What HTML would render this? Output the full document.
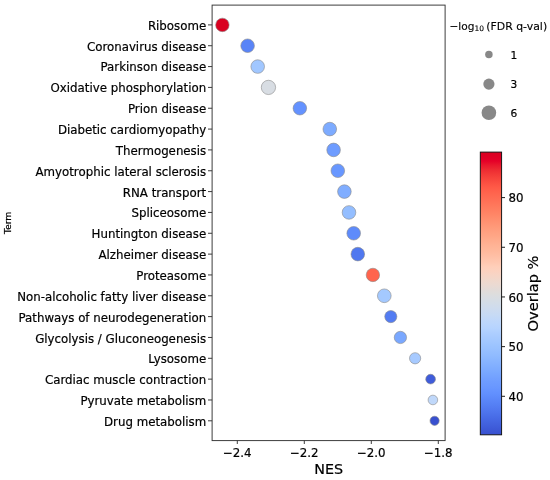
<!DOCTYPE html>
<html><head><meta charset="utf-8"><title>NES dotplot</title>
<style>html,body{margin:0;padding:0;background:#fff;width:550px;height:480px;overflow:hidden}</style>
</head><body>
<svg width="550" height="480" viewBox="0 0 550 480" style="display:block">
<rect x="0" y="0" width="550" height="480" fill="#ffffff"/>
<circle cx="222.40" cy="24.90" r="6.75" fill="#d90020" stroke="#8a8a8a" stroke-width="0.6"/>
<circle cx="247.60" cy="45.73" r="6.80" fill="#5984f7" stroke="#8a8a8a" stroke-width="0.6"/>
<circle cx="257.70" cy="66.57" r="6.80" fill="#a1c7ff" stroke="#8a8a8a" stroke-width="0.6"/>
<circle cx="268.45" cy="87.41" r="7.15" fill="#d8dde3" stroke="#8a8a8a" stroke-width="0.6"/>
<circle cx="299.85" cy="108.24" r="6.75" fill="#6492ff" stroke="#8a8a8a" stroke-width="0.6"/>
<circle cx="329.80" cy="129.08" r="6.80" fill="#7dabff" stroke="#8a8a8a" stroke-width="0.6"/>
<circle cx="333.60" cy="149.92" r="6.80" fill="#6e9cff" stroke="#8a8a8a" stroke-width="0.6"/>
<circle cx="337.80" cy="170.76" r="6.80" fill="#6897ff" stroke="#8a8a8a" stroke-width="0.6"/>
<circle cx="344.40" cy="191.59" r="6.80" fill="#80adff" stroke="#8a8a8a" stroke-width="0.6"/>
<circle cx="349.00" cy="212.43" r="6.80" fill="#94beff" stroke="#8a8a8a" stroke-width="0.6"/>
<circle cx="353.70" cy="233.27" r="6.80" fill="#5e8bfb" stroke="#8a8a8a" stroke-width="0.6"/>
<circle cx="357.80" cy="254.11" r="6.80" fill="#5078ef" stroke="#8a8a8a" stroke-width="0.6"/>
<circle cx="372.90" cy="274.94" r="6.70" fill="#ff644d" stroke="#8a8a8a" stroke-width="0.6"/>
<circle cx="384.30" cy="295.78" r="6.85" fill="#a4c9ff" stroke="#8a8a8a" stroke-width="0.6"/>
<circle cx="390.80" cy="316.62" r="6.05" fill="#537cf2" stroke="#8a8a8a" stroke-width="0.6"/>
<circle cx="400.40" cy="337.46" r="6.15" fill="#7aa8ff" stroke="#8a8a8a" stroke-width="0.6"/>
<circle cx="415.10" cy="358.29" r="5.60" fill="#a7caff" stroke="#8a8a8a" stroke-width="0.6"/>
<circle cx="430.60" cy="379.13" r="4.85" fill="#3f5cda" stroke="#8a8a8a" stroke-width="0.6"/>
<circle cx="432.90" cy="399.97" r="4.80" fill="#c0d8fa" stroke="#8a8a8a" stroke-width="0.6"/>
<circle cx="434.60" cy="420.80" r="4.60" fill="#3850cf" stroke="#8a8a8a" stroke-width="0.6"/>
<rect x="212.1" y="5.1" width="233.00" height="435.50" fill="none" stroke="#333" stroke-width="0.95"/>
<line x1="208.00" y1="24.90" x2="212.1" y2="24.90" stroke="#333" stroke-width="0.95"/>
<text x="206.20" y="29.70" text-anchor="end" font-family="'DejaVu Sans', 'Liberation Sans', sans-serif" font-size="11.8" fill="#000" stroke="#000" stroke-width="0.2">Ribosome</text>
<line x1="208.00" y1="45.73" x2="212.1" y2="45.73" stroke="#333" stroke-width="0.95"/>
<text x="206.20" y="50.55" text-anchor="end" font-family="'DejaVu Sans', 'Liberation Sans', sans-serif" font-size="11.8" fill="#000" stroke="#000" stroke-width="0.2">Coronavirus disease</text>
<line x1="208.00" y1="66.57" x2="212.1" y2="66.57" stroke="#333" stroke-width="0.95"/>
<text x="206.20" y="71.41" text-anchor="end" font-family="'DejaVu Sans', 'Liberation Sans', sans-serif" font-size="11.8" fill="#000" stroke="#000" stroke-width="0.2">Parkinson disease</text>
<line x1="208.00" y1="87.41" x2="212.1" y2="87.41" stroke="#333" stroke-width="0.95"/>
<text x="206.20" y="92.27" text-anchor="end" font-family="'DejaVu Sans', 'Liberation Sans', sans-serif" font-size="11.8" fill="#000" stroke="#000" stroke-width="0.2">Oxidative phosphorylation</text>
<line x1="208.00" y1="108.24" x2="212.1" y2="108.24" stroke="#333" stroke-width="0.95"/>
<text x="206.20" y="113.13" text-anchor="end" font-family="'DejaVu Sans', 'Liberation Sans', sans-serif" font-size="11.8" fill="#000" stroke="#000" stroke-width="0.2">Prion disease</text>
<line x1="208.00" y1="129.08" x2="212.1" y2="129.08" stroke="#333" stroke-width="0.95"/>
<text x="206.20" y="133.99" text-anchor="end" font-family="'DejaVu Sans', 'Liberation Sans', sans-serif" font-size="11.8" fill="#000" stroke="#000" stroke-width="0.2">Diabetic cardiomyopathy</text>
<line x1="208.00" y1="149.92" x2="212.1" y2="149.92" stroke="#333" stroke-width="0.95"/>
<text x="206.20" y="154.85" text-anchor="end" font-family="'DejaVu Sans', 'Liberation Sans', sans-serif" font-size="11.8" fill="#000" stroke="#000" stroke-width="0.2">Thermogenesis</text>
<line x1="208.00" y1="170.76" x2="212.1" y2="170.76" stroke="#333" stroke-width="0.95"/>
<text x="206.20" y="175.70" text-anchor="end" font-family="'DejaVu Sans', 'Liberation Sans', sans-serif" font-size="11.8" fill="#000" stroke="#000" stroke-width="0.2">Amyotrophic lateral sclerosis</text>
<line x1="208.00" y1="191.59" x2="212.1" y2="191.59" stroke="#333" stroke-width="0.95"/>
<text x="206.20" y="196.56" text-anchor="end" font-family="'DejaVu Sans', 'Liberation Sans', sans-serif" font-size="11.8" fill="#000" stroke="#000" stroke-width="0.2">RNA transport</text>
<line x1="208.00" y1="212.43" x2="212.1" y2="212.43" stroke="#333" stroke-width="0.95"/>
<text x="206.20" y="217.42" text-anchor="end" font-family="'DejaVu Sans', 'Liberation Sans', sans-serif" font-size="11.8" fill="#000" stroke="#000" stroke-width="0.2">Spliceosome</text>
<line x1="208.00" y1="233.27" x2="212.1" y2="233.27" stroke="#333" stroke-width="0.95"/>
<text x="206.20" y="238.28" text-anchor="end" font-family="'DejaVu Sans', 'Liberation Sans', sans-serif" font-size="11.8" fill="#000" stroke="#000" stroke-width="0.2">Huntington disease</text>
<line x1="208.00" y1="254.11" x2="212.1" y2="254.11" stroke="#333" stroke-width="0.95"/>
<text x="206.20" y="259.14" text-anchor="end" font-family="'DejaVu Sans', 'Liberation Sans', sans-serif" font-size="11.8" fill="#000" stroke="#000" stroke-width="0.2">Alzheimer disease</text>
<line x1="208.00" y1="274.94" x2="212.1" y2="274.94" stroke="#333" stroke-width="0.95"/>
<text x="206.20" y="280.00" text-anchor="end" font-family="'DejaVu Sans', 'Liberation Sans', sans-serif" font-size="11.8" fill="#000" stroke="#000" stroke-width="0.2">Proteasome</text>
<line x1="208.00" y1="295.78" x2="212.1" y2="295.78" stroke="#333" stroke-width="0.95"/>
<text x="206.20" y="300.85" text-anchor="end" font-family="'DejaVu Sans', 'Liberation Sans', sans-serif" font-size="11.8" fill="#000" stroke="#000" stroke-width="0.2">Non-alcoholic fatty liver disease</text>
<line x1="208.00" y1="316.62" x2="212.1" y2="316.62" stroke="#333" stroke-width="0.95"/>
<text x="206.20" y="321.71" text-anchor="end" font-family="'DejaVu Sans', 'Liberation Sans', sans-serif" font-size="11.8" fill="#000" stroke="#000" stroke-width="0.2">Pathways of neurodegeneration</text>
<line x1="208.00" y1="337.46" x2="212.1" y2="337.46" stroke="#333" stroke-width="0.95"/>
<text x="206.20" y="342.57" text-anchor="end" font-family="'DejaVu Sans', 'Liberation Sans', sans-serif" font-size="11.8" fill="#000" stroke="#000" stroke-width="0.2">Glycolysis / Gluconeogenesis</text>
<line x1="208.00" y1="358.29" x2="212.1" y2="358.29" stroke="#333" stroke-width="0.95"/>
<text x="206.20" y="363.43" text-anchor="end" font-family="'DejaVu Sans', 'Liberation Sans', sans-serif" font-size="11.8" fill="#000" stroke="#000" stroke-width="0.2">Lysosome</text>
<line x1="208.00" y1="379.13" x2="212.1" y2="379.13" stroke="#333" stroke-width="0.95"/>
<text x="206.20" y="384.29" text-anchor="end" font-family="'DejaVu Sans', 'Liberation Sans', sans-serif" font-size="11.8" fill="#000" stroke="#000" stroke-width="0.2">Cardiac muscle contraction</text>
<line x1="208.00" y1="399.97" x2="212.1" y2="399.97" stroke="#333" stroke-width="0.95"/>
<text x="206.20" y="405.15" text-anchor="end" font-family="'DejaVu Sans', 'Liberation Sans', sans-serif" font-size="11.8" fill="#000" stroke="#000" stroke-width="0.2">Pyruvate metabolism</text>
<line x1="208.00" y1="420.80" x2="212.1" y2="420.80" stroke="#333" stroke-width="0.95"/>
<text x="206.20" y="426.00" text-anchor="end" font-family="'DejaVu Sans', 'Liberation Sans', sans-serif" font-size="11.8" fill="#000" stroke="#000" stroke-width="0.2">Drug metabolism</text>
<line x1="237.30" y1="440.6" x2="237.30" y2="444.00" stroke="#333" stroke-width="0.95"/>
<text x="237.30" y="457.20" text-anchor="middle" font-family="'DejaVu Sans', 'Liberation Sans', sans-serif" font-size="11.8" fill="#000" stroke="#000" stroke-width="0.2">−2.4</text>
<line x1="304.30" y1="440.6" x2="304.30" y2="444.00" stroke="#333" stroke-width="0.95"/>
<text x="304.30" y="457.20" text-anchor="middle" font-family="'DejaVu Sans', 'Liberation Sans', sans-serif" font-size="11.8" fill="#000" stroke="#000" stroke-width="0.2">−2.2</text>
<line x1="371.30" y1="440.6" x2="371.30" y2="444.00" stroke="#333" stroke-width="0.95"/>
<text x="371.30" y="457.20" text-anchor="middle" font-family="'DejaVu Sans', 'Liberation Sans', sans-serif" font-size="11.8" fill="#000" stroke="#000" stroke-width="0.2">−2.0</text>
<line x1="438.30" y1="440.6" x2="438.30" y2="444.00" stroke="#333" stroke-width="0.95"/>
<text x="438.30" y="457.20" text-anchor="middle" font-family="'DejaVu Sans', 'Liberation Sans', sans-serif" font-size="11.8" fill="#000" stroke="#000" stroke-width="0.2">−1.8</text>
<text x="328.60" y="474.2" text-anchor="middle" font-family="'DejaVu Sans', 'Liberation Sans', sans-serif" font-size="14.3" fill="#000" stroke="#000" stroke-width="0.2">NES</text>
<text transform="translate(11.25,222.85) rotate(-90)" text-anchor="middle" font-family="'DejaVu Sans', 'Liberation Sans', sans-serif" font-size="9.3" fill="#000" stroke="#000" stroke-width="0.2">Term</text>
<text x="449.4" y="29.8" font-family="'DejaVu Sans', 'Liberation Sans', sans-serif" font-size="10.6" fill="#000" stroke="#000" stroke-width="0.12">−log<tspan font-size="7.5" dy="1.6">10</tspan><tspan dy="-1.6" dx="2.3" font-size="10.9">(FDR q-val)</tspan></text>
<circle cx="488.9" cy="54.6" r="3.75" fill="#888888"/>
<text x="510.4" y="58.90" font-family="'DejaVu Sans', 'Liberation Sans', sans-serif" font-size="10.6" fill="#000" stroke="#000" stroke-width="0.2">1</text>
<circle cx="488.9" cy="84.1" r="5.6" fill="#888888"/>
<text x="510.4" y="88.40" font-family="'DejaVu Sans', 'Liberation Sans', sans-serif" font-size="10.6" fill="#000" stroke="#000" stroke-width="0.2">3</text>
<circle cx="488.9" cy="112.75" r="7.3" fill="#888888"/>
<text x="510.4" y="117.05" font-family="'DejaVu Sans', 'Liberation Sans', sans-serif" font-size="10.6" fill="#000" stroke="#000" stroke-width="0.2">6</text>
<defs><linearGradient id="cb" x1="0" y1="1" x2="0" y2="0">
<stop offset="0.0000" stop-color="#3850cf"/>
<stop offset="0.0156" stop-color="#3c57d5"/>
<stop offset="0.0312" stop-color="#405edb"/>
<stop offset="0.0469" stop-color="#4465e1"/>
<stop offset="0.0625" stop-color="#486ce7"/>
<stop offset="0.0781" stop-color="#4d73ec"/>
<stop offset="0.0938" stop-color="#527af1"/>
<stop offset="0.1094" stop-color="#5681f5"/>
<stop offset="0.1250" stop-color="#5b87f9"/>
<stop offset="0.1406" stop-color="#608efd"/>
<stop offset="0.1562" stop-color="#6593ff"/>
<stop offset="0.1719" stop-color="#6a98ff"/>
<stop offset="0.1875" stop-color="#6e9cff"/>
<stop offset="0.2031" stop-color="#73a1ff"/>
<stop offset="0.2188" stop-color="#78a7ff"/>
<stop offset="0.2344" stop-color="#7eacff"/>
<stop offset="0.2500" stop-color="#84b1ff"/>
<stop offset="0.2656" stop-color="#8ab6ff"/>
<stop offset="0.2812" stop-color="#90bbff"/>
<stop offset="0.2969" stop-color="#96bfff"/>
<stop offset="0.3125" stop-color="#9bc3ff"/>
<stop offset="0.3281" stop-color="#a1c7ff"/>
<stop offset="0.3438" stop-color="#a7caff"/>
<stop offset="0.3594" stop-color="#adceff"/>
<stop offset="0.3750" stop-color="#b5d3ff"/>
<stop offset="0.3906" stop-color="#bbd6fd"/>
<stop offset="0.4062" stop-color="#c0d8fa"/>
<stop offset="0.4219" stop-color="#c6daf5"/>
<stop offset="0.4375" stop-color="#cbdbf1"/>
<stop offset="0.4531" stop-color="#d0dcec"/>
<stop offset="0.4688" stop-color="#d4dde7"/>
<stop offset="0.4844" stop-color="#d9dde2"/>
<stop offset="0.5000" stop-color="#dedddc"/>
<stop offset="0.5156" stop-color="#e4dbd7"/>
<stop offset="0.5312" stop-color="#ebdad2"/>
<stop offset="0.5469" stop-color="#f0d8cc"/>
<stop offset="0.5625" stop-color="#f6d5c6"/>
<stop offset="0.5781" stop-color="#fbd2c0"/>
<stop offset="0.5938" stop-color="#ffcfba"/>
<stop offset="0.6094" stop-color="#ffc8b1"/>
<stop offset="0.6250" stop-color="#ffc2a9"/>
<stop offset="0.6406" stop-color="#ffbca1"/>
<stop offset="0.6562" stop-color="#ffb79a"/>
<stop offset="0.6719" stop-color="#ffb294"/>
<stop offset="0.6875" stop-color="#ffac8d"/>
<stop offset="0.7031" stop-color="#ffa686"/>
<stop offset="0.7188" stop-color="#ffa080"/>
<stop offset="0.7344" stop-color="#ff9a79"/>
<stop offset="0.7500" stop-color="#ff9373"/>
<stop offset="0.7656" stop-color="#ff8c6c"/>
<stop offset="0.7812" stop-color="#ff8566"/>
<stop offset="0.7969" stop-color="#ff7e60"/>
<stop offset="0.8125" stop-color="#ff775b"/>
<stop offset="0.8281" stop-color="#ff7056"/>
<stop offset="0.8438" stop-color="#ff6951"/>
<stop offset="0.8594" stop-color="#ff624c"/>
<stop offset="0.8750" stop-color="#ff5a47"/>
<stop offset="0.8906" stop-color="#fb5042"/>
<stop offset="0.9062" stop-color="#f7453c"/>
<stop offset="0.9219" stop-color="#f23937"/>
<stop offset="0.9375" stop-color="#ed2b32"/>
<stop offset="0.9531" stop-color="#e9182d"/>
<stop offset="0.9688" stop-color="#e50028"/>
<stop offset="0.9844" stop-color="#de0024"/>
<stop offset="1.0000" stop-color="#d90020"/>
</linearGradient></defs>
<rect x="480.3" y="152.1" width="21.30" height="282.70" fill="url(#cb)" stroke="#111" stroke-width="0.95"/>
<line x1="501.6" y1="396.30" x2="505.00" y2="396.30" stroke="#111" stroke-width="0.95"/>
<text x="508.4" y="401.10" font-family="'DejaVu Sans', 'Liberation Sans', sans-serif" font-size="11.8" fill="#000" stroke="#000" stroke-width="0.2">40</text>
<line x1="501.6" y1="346.63" x2="505.00" y2="346.63" stroke="#111" stroke-width="0.95"/>
<text x="508.4" y="351.43" font-family="'DejaVu Sans', 'Liberation Sans', sans-serif" font-size="11.8" fill="#000" stroke="#000" stroke-width="0.2">50</text>
<line x1="501.6" y1="296.95" x2="505.00" y2="296.95" stroke="#111" stroke-width="0.95"/>
<text x="508.4" y="301.75" font-family="'DejaVu Sans', 'Liberation Sans', sans-serif" font-size="11.8" fill="#000" stroke="#000" stroke-width="0.2">60</text>
<line x1="501.6" y1="247.28" x2="505.00" y2="247.28" stroke="#111" stroke-width="0.95"/>
<text x="508.4" y="252.08" font-family="'DejaVu Sans', 'Liberation Sans', sans-serif" font-size="11.8" fill="#000" stroke="#000" stroke-width="0.2">70</text>
<line x1="501.6" y1="197.60" x2="505.00" y2="197.60" stroke="#111" stroke-width="0.95"/>
<text x="508.4" y="202.40" font-family="'DejaVu Sans', 'Liberation Sans', sans-serif" font-size="11.8" fill="#000" stroke="#000" stroke-width="0.2">80</text>
<text transform="translate(538.2,293.45) rotate(-90)" text-anchor="middle" font-family="'DejaVu Sans', 'Liberation Sans', sans-serif" font-size="14.6" fill="#000" stroke="#000" stroke-width="0.2">Overlap %</text>
</svg>
</body></html>
